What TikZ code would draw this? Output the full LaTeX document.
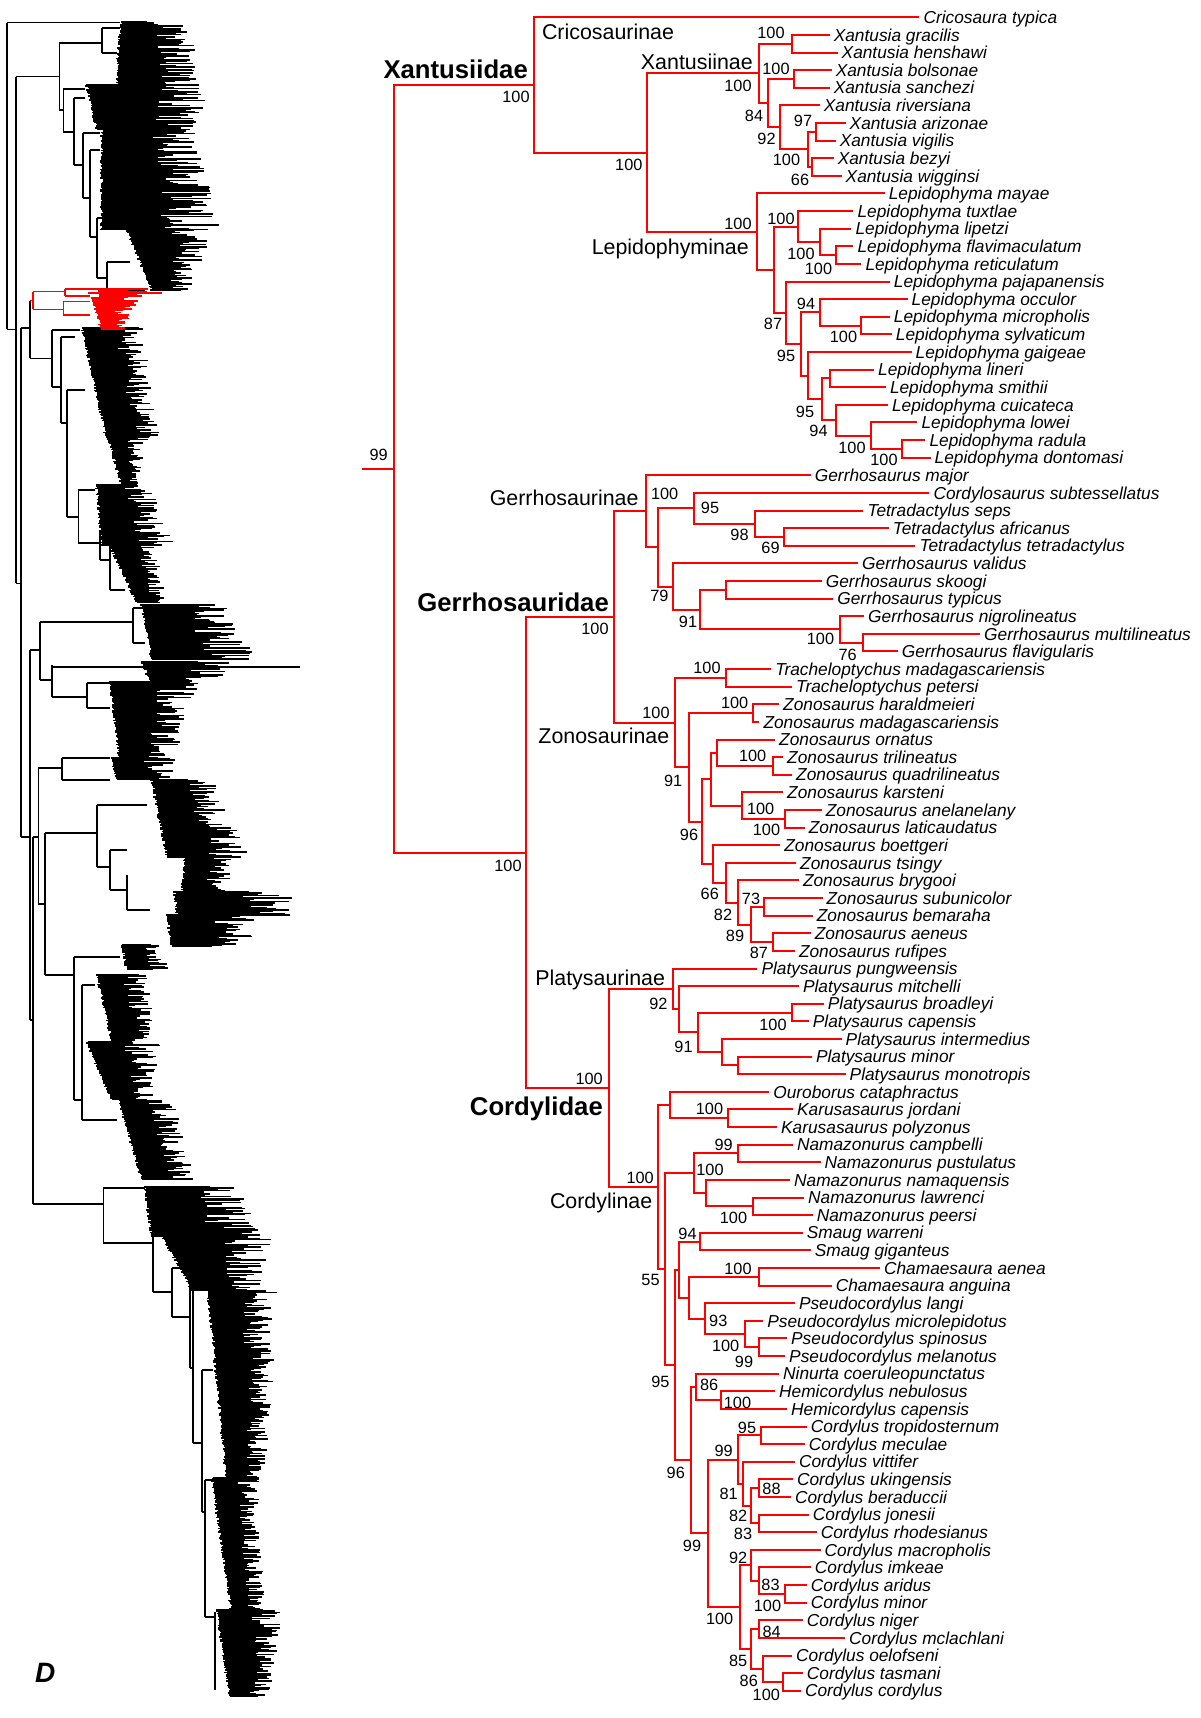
\documentclass[tikz,border=0pt]{standalone}
\usepackage{fontspec}
\setmainfont{Liberation Sans}
\newcommand\mkblob[7]{%
  \pgfmathtruncatemacro\bn{(#2-#1)/1.2}%
  \foreach \bi in {0,...,\bn}{%
    \pgfmathsetmacro\byy{#1+1.2*\bi}%
    \pgfmathsetmacro\bt{(\byy-#1)/(#2-#1)}%
    \pgfmathsetmacro\bxl{#3+\bt*(#4-#3)+3*rnd}%
    \pgfmathsetmacro\bxr{#5+\bt*(#6-#5)}%
    \pgfmathsetmacro\bxe{\bxl+(\bxr-\bxl)*(0.5+0.5*rnd)}%
    \draw[#7,line width=1.5pt] (\bxl,\byy) -- (\bxe,\byy);
  }}
\tikzset{
 rd/.style={draw=red, line width=2pt},
 bk/.style={draw=black, line width=1.6pt},
 rk/.style={draw=red, line width=1.5pt},
 tip/.style={anchor=west, font=\fontsize{17.3}{18}\selectfont\itshape, text height=12.4pt, text depth=0pt, inner xsep=4pt, inner ysep=0pt},
 bs/.style={anchor=center, font=\fontsize{16.3}{17}\selectfont, text height=11.7pt, text depth=0pt, inner sep=0pt},
 sub/.style={font=\fontsize{21.4}{22}\selectfont, inner sep=0pt},
 fam/.style={font=\fontsize{25.7}{26}\selectfont\bfseries, inner sep=0pt},
}
\begin{document}
\begin{tikzpicture}[x=1pt,y=-1pt]
\useasboundingbox (0,0) rectangle (1200,1718);
\fill[white] (0,0) rectangle (1200,1718);
\pgfmathsetseed{12}
% ---------------- left overview tree ----------------
\draw[bk]
(6.7,22.7)--(6.7,329.3) (6.7,22.7)--(120,22.7) (6.7,329.3)--(16,329.3)
(16,76.7)--(16,583.3) (16,76.7)--(59.3,76.7)
(59.3,43)--(59.3,110) (59.3,43)--(101.7,43)
(101.7,28)--(101.7,53) (101.7,28)--(120,28) (101.7,53)--(117,53)
(59.3,110)--(63.3,110) (63.3,89)--(63.3,132) (63.3,89)--(85,89) (63.3,132)--(74,132)
(74,98)--(74,165) (74,98)--(85,98) (74,165)--(83,165)
(83,133)--(83,198) (83,133)--(100,133) (83,198)--(90,198)
(90,150)--(90,237) (90,150)--(100,150) (90,237)--(97,237)
(97,218)--(97,278) (97,218)--(125,218) (97,278)--(107,278)
(107,262)--(107,290) (107,262)--(130,262) (107,290)--(145,290)
(16,583.3)--(20.7,583.3)
(20.7,328)--(20.7,836.7) (20.7,328)--(30,328)
(30,300.5)--(30,358.3) (30,358.3)--(51.7,358.3)
(51.7,330)--(51.7,386.7) (51.7,330)--(80,330) (51.7,386.7)--(60.7,386.7)
(60.7,337)--(60.7,423) (60.7,337)--(75,337) (60.7,423)--(67,423)
(67,390)--(67,516.7) (67,390)--(85,390) (67,516.7)--(78.3,516.7)
(78.3,490)--(78.3,543) (78.3,490)--(95,490) (78.3,543)--(100,543)
(100,530)--(100,560) (100,560)--(110,560) (110,545)--(110,590) (110,590)--(125,590)
(20.7,836.7)--(30,836.7)
(30,650)--(30,1020) (30,650)--(40,650)
(40,621.7)--(40,680) (40,621.7)--(133,621.7)
(133,608)--(133,643) (133,608)--(150,608) (133,643)--(145,643)
(40,680)--(51.7,680)
(51.7,665)--(51.7,697) (51.7,666.7)--(300,666.7) (51.7,697)--(86.7,697)
(86.7,683)--(86.7,708) (86.7,683)--(110,683) (86.7,708)--(110,708)
(30,1020)--(33,1020)
(33,836.7)--(33,1204) (33,836.7)--(38.3,836.7)
(38.3,768)--(38.3,904) (38.3,768)--(61.7,768)
(61.7,758)--(61.7,780) (61.7,758)--(110,758) (61.7,780)--(110,780)
(38.3,904)--(45,904)
(45,833)--(45,975) (45,833)--(96.7,833)
(96.7,805)--(96.7,867) (96.7,805)--(146.7,805) (96.7,867)--(110,867)
(110,850)--(110,890) (110,850)--(127,850) (110,890)--(127,890)
(127,875)--(127,910) (127,910)--(150,910)
(45,975)--(74,975)
(74,957)--(74,1100) (74,957)--(120,957) (74,1100)--(82,1100)
(82,985)--(82,1120) (82,985)--(95,985) (82,1120)--(117,1120)
(33,1204)--(103.3,1204)
(103.3,1188)--(103.3,1243) (103.3,1188)--(145,1188) (103.3,1243)--(153,1243)
(153,1232)--(153,1292) (153,1232)--(170,1232) (153,1292)--(172,1292)
(172,1268)--(172,1317) (172,1268)--(200,1268) (172,1317)--(190,1317)
(190,1275)--(190,1368) (190,1275)--(212,1275) (190,1368)--(193,1368)
(193,1290)--(193,1443) (193,1290)--(210,1290) (193,1443)--(201.7,1443)
(201.7,1370)--(201.7,1512) (201.7,1370)--(213,1370) (201.7,1512)--(205,1512)
(205,1480)--(205,1617) (205,1480)--(212,1480) (205,1617)--(215,1617)
(215,1612)--(215,1690);
\foreach \a/\b/\c/\d/\e/\f in {
 22/27/120/120/157/150, 25/43/120/117/185/190, 43/88/117/115/195/200,
 85/130/85/95/210/200, 130/230/100/100/195/222, 230/290/125/150/215/190,
 328/440/80/105/143/160, 440/485/107/120/145/140,
 485/545/95/100/150/175, 545/603/108/135/160/165,
 605/660/140/150/225/262, 662/685/140/150/230/220,
 682/760/108/118/200/175,
 758/780/110/115/173/175, 780/857/150/165/215/250, 857/893/183/180/233/230,
 892/915/173/175/297/290, 915/947/165/170/260/250,
 945/970/120/125/160/175, 975/1040/95/110/150/155, 1042/1100/85/110/160/155,
 1100/1180/117/140/175/195,
 1187/1237/143/150/245/262, 1230/1290/157/190/277/260,
 1290/1367/205/215/277/270, 1360/1480/213/225/275/265,
 1478/1613/210/230/260/265, 1610/1697/215/228/285/270}
 {\mkblob{\a}{\b}{\c}{\d}{\e}{\f}{black}}
% red clade (thumbnail)
\draw[rk] (30,300.5)--(33,300.5) (33,291.7)--(33,309.3)
 (33,291.7)--(65,291.7) (65,289)--(65,296) (65,289)--(148,289) (65,296)--(90,296)
 (88,293)--(162,293)
 (33,309.3)--(63.3,309.3) (63.3,301.7)--(63.3,315) (63.3,301.7)--(90,301.7) (63.3,315)--(90,315);
\mkblob{289}{298}{95}{100}{150}{145}{red}
\mkblob{298}{330}{90}{100}{140}{125}{red}
\node[font=\fontsize{28}{28}\selectfont\bfseries\itshape, anchor=base west, inner sep=0pt] (D) at (35,1682) {D};
% ---------------- right detailed tree ----------------
\foreach \xe/\tx [count=\i] in {
919.4/Cricosaura typica, 829.6/Xantusia gracilis, 837.5/Xantusia henshawi,
831.6/Xantusia bolsonae, 829.6/Xantusia sanchezi, 819.7/Xantusia riversiana,
845.5/Xantusia arizonae, 835.6/Xantusia vigilis, 833.6/Xantusia bezyi,
841.5/Xantusia wigginsi, 884.6/Lepidophyma mayae, 853.4/Lepidophyma tuxtlae,
851.4/Lepidophyma lipetzi, 853.4/Lepidophyma flavimaculatum, 861.3/Lepidophyma reticulatum,
889.7/Lepidophyma pajapanensis, 907.5/Lepidophyma occulor, 889.7/Lepidophyma micropholis,
891.7/Lepidophyma sylvaticum, 911.5/Lepidophyma gaigeae, 874/Lepidophyma lineri,
885.8/Lepidophyma smithii, 887.8/Lepidophyma cuicateca, 917.4/Lepidophyma lowei,
925.3/Lepidophyma radula, 930.5/Lepidophyma dontomasi,
810.7/Gerrhosaurus major, 929.3/Cordylosaurus subtessellatus, 863.3/Tetradactylus seps,
888.6/Tetradactylus africanus, 915.4/Tetradactylus tetradactylus, 858/Gerrhosaurus validus,
821.7/Gerrhosaurus skoogi, 833.2/Gerrhosaurus typicus, 864/Gerrhosaurus nigrolineatus,
980/Gerrhosaurus multilineatus, 897.6/Gerrhosaurus flavigularis,
771.1/Tracheloptychus madagascariensis, 792/Tracheloptychus petersi,
779/Zonosaurus haraldmeieri, 759.3/Zonosaurus madagascariensis, 775/Zonosaurus ornatus,
783/Zonosaurus trilineatus, 792/Zonosaurus quadrilineatus, 783/Zonosaurus karsteni,
821.7/Zonosaurus anelanelany, 804.7/Zonosaurus laticaudatus, 780.2/Zonosaurus boettgeri,
796/Zonosaurus tsingy, 798.8/Zonosaurus brygooi, 822.5/Zonosaurus subunicolor,
812.6/Zonosaurus bemaraha, 810.7/Zonosaurus aeneus, 794.8/Zonosaurus rufipes,
757.3/Platysaurus pungweensis, 798.8/Platysaurus mitchelli, 823.7/Platysaurus broadleyi,
808.7/Platysaurus capensis, 841.5/Platysaurus intermedius, 811.8/Platysaurus minor,
845.5/Platysaurus monotropis,
769.1/Ouroborus cataphractus, 792.9/Karusasaurus jordani, 777/Karusasaurus polyzonus,
792.9/Namazonurus campbelli, 820.5/Namazonurus pustulatus, 790/Namazonurus namaquensis,
804/Namazonurus lawrenci, 812.6/Namazonurus peersi, 802.7/Smaug warreni,
810.7/Smaug giganteus, 879.9/Chamaesaura aenea, 831.6/Chamaesaura anguina,
794.8/Pseudocordylus langi, 763.2/Pseudocordylus microlepidotus, 787/Pseudocordylus spinosus,
785/Pseudocordylus melanotus, 779/Ninurta coeruleopunctatus, 775/Hemicordylus nebulosus,
787/Hemicordylus capensis, 806.7/Cordylus tropidosternum, 804.7/Cordylus meculae,
794.8/Cordylus vittifer, 792.9/Cordylus ukingensis, 790.9/Cordylus beraduccii,
808.7/Cordylus jonesii, 816.6/Cordylus rhodesianus, 820.5/Cordylus macropholis,
810.7/Cordylus imkeae, 806.7/Cordylus aridus, 806.7/Cordylus minor,
802.7/Cordylus niger, 845/Cordylus mclachlani, 792/Cordylus oelofseni,
802.7/Cordylus tasmani, 800.8/Cordylus cordylus}
{\pgfmathsetmacro\ty{17.3+(\i-1)*17.615}
 \node[tip] (t\i) at (\xe,\ty) {\tx};}
% internal nodes
\coordinate (R0) at (361.9,468.8);
\coordinate (R) at (394.3,468.8);
\coordinate (X) at (534,85.0);
\coordinate (XL) at (647.4,152.6);
\coordinate (XA) at (759.3,73.5);
\coordinate (XA1) at (792,43.7);
\coordinate (XA2) at (768.3,103.2);
\coordinate (XA3) at (794,79.0);
\coordinate (XA4) at (780.2,127.4);
\coordinate (XA5) at (808,149.4);
\coordinate (XA6) at (815.8,131.8);
\coordinate (XA7) at (811.8,167.0);
\coordinate (LA) at (756.5,231.6);
\coordinate (L2) at (774.3,269.7);
\coordinate (L3) at (798,226.5);
\coordinate (L5) at (819.8,241.9);
\coordinate (L6) at (835.6,255.1);
\coordinate (L4) at (786.1,312.8);
\coordinate (L8) at (800.8,344.1);
\coordinate (L9) at (819.8,312.4);
\coordinate (L11) at (860.9,325.6);
\coordinate (L10) at (807.9,375.7);
\coordinate (L12) at (821.7,399.4);
\coordinate (L12a) at (829.6,378.4);
\coordinate (L13) at (835.6,420.3);
\coordinate (L14) at (870.8,435.7);
\coordinate (L15) at (901.6,448.9);
\coordinate (GC) at (526,852.6);
\coordinate (GE) at (614.1,617.1);
\coordinate (GS) at (645.8,511.4);
\coordinate (G2) at (657.6,547.4);
\coordinate (G3) at (694,508.3);
\coordinate (G6) at (754.5,523.7);
\coordinate (G7) at (784.2,536.9);
\coordinate (G4) at (673.4,586.5);
\coordinate (G5) at (700.3,609.6);
\coordinate (G5a) at (725.6,589.8);
\coordinate (G8) at (840.3,629.4);
\coordinate (G9) at (862.5,642.6);
\coordinate (Z0) at (675,722.7);
\coordinate (ZT) at (725.6,677.9);
\coordinate (Z1) at (688.9,767.4);
\coordinate (ZH) at (753.3,713.1);
\coordinate (Z2) at (701.9,821.6);
\coordinate (Z3) at (710.6,779.2);
\coordinate (Z5) at (717.2,752.7);
\coordinate (Z5a) at (773,765.9);
\coordinate (Z6) at (741.5,805.6);
\coordinate (Z6a) at (785,818.8);
\coordinate (Z4) at (712.5,864.0);
\coordinate (Z7) at (725.6,882.7);
\coordinate (Z8) at (737.5,902.5);
\coordinate (Z9) at (750.5,924.5);
\coordinate (Z10) at (764.4,906.8);
\coordinate (Z11) at (773,942.1);
\coordinate (CO) at (609,1088.0);
\coordinate (PL) at (673.4,988.9);
\coordinate (P2) at (679,1009.3);
\coordinate (P3) at (698,1032.4);
\coordinate (P3a) at (792,1012.5);
\coordinate (P4) at (721.7,1052.2);
\coordinate (P5) at (737.5,1065.4);
\coordinate (CY) at (658.4,1187.1);
\coordinate (C1) at (669.5,1105.0);
\coordinate (C1a) at (727.6,1118.2);
\coordinate (C2) at (665.1,1269.1);
\coordinate (N1) at (694,1173.3);
\coordinate (N1a) at (737.5,1153.4);
\coordinate (N3) at (706.3,1193.1);
\coordinate (N3a) at (753.3,1206.3);
\coordinate (C3) at (675,1364.9);
\coordinate (C4) at (679,1269.6);
\coordinate (SM) at (700,1241.5);
\coordinate (C5) at (688.9,1297.7);
\coordinate (CH) at (759.3,1276.8);
\coordinate (PS) at (704.7,1318.6);
\coordinate (PS2) at (745.4,1334.0);
\coordinate (PS3) at (759.3,1347.2);
\coordinate (C6) at (690.8,1460.2);
\coordinate (HM) at (696.4,1386.9);
\coordinate (HM2) at (720.5,1400.1);
\coordinate (C7) at (707.9,1533.4);
\coordinate (C8) at (737.5,1459.6);
\coordinate (C8a) at (761.2,1435.3);
\coordinate (C9) at (743.4,1483.8);
\coordinate (C10) at (751.3,1505.8);
\coordinate (C10a) at (758.5,1488.1);
\coordinate (C10b) at (759.3,1523.4);
\coordinate (C11) at (739.5,1607.1);
\coordinate (C12) at (751.3,1565.2);
\coordinate (C13) at (758.5,1580.6);
\coordinate (C13a) at (785,1593.8);
\coordinate (C14) at (751.3,1648.9);
\coordinate (C14a) at (758.5,1629.0);
\coordinate (C15) at (763.2,1668.7);
\coordinate (C15a) at (783,1681.9);
\draw[rd] (R0) -- (R);
\foreach \p/\c in {R/X, R/GC, X/t1.west, X/XL, XL/XA, XL/LA, XA/XA1, XA/XA2,
 XA1/t2.west, XA1/t3.west, XA2/XA3, XA2/XA4, XA3/t4.west, XA3/t5.west,
 XA4/t6.west, XA4/XA5, XA5/XA6, XA5/XA7, XA6/t7.west, XA6/t8.west,
 XA7/t9.west, XA7/t10.west, LA/t11.west, LA/L2, L2/L3, L2/L4,
 L3/t12.west, L3/L5, L5/t13.west, L5/L6, L6/t14.west, L6/t15.west,
 L4/t16.west, L4/L8, L8/L9, L8/L10, L9/t17.west, L9/L11, L11/t18.west, L11/t19.west,
 L10/t20.west, L10/L12, L12/L12a, L12/L13, L12a/t21.west, L12a/t22.west,
 L13/t23.west, L13/L14, L14/t24.west, L14/L15, L15/t25.west, L15/t26.west,
 GC/GE, GC/CO, GE/GS, GE/Z0, GS/t27.west, GS/G2, G2/G3, G2/G4,
 G3/t28.west, G3/G6, G6/t29.west, G6/G7, G7/t30.west, G7/t31.west,
 G4/t32.west, G4/G5, G5/G5a, G5/G8, G5a/t33.west, G5a/t34.west,
 G8/t35.west, G8/G9, G9/t36.west, G9/t37.west,
 Z0/ZT, Z0/Z1, ZT/t38.west, ZT/t39.west, Z1/ZH, Z1/Z2, ZH/t40.west, ZH/t41.west,
 Z2/Z3, Z2/Z4, Z3/Z5, Z3/Z6, Z5/t42.west, Z5/Z5a, Z5a/t43.west, Z5a/t44.west,
 Z6/t45.west, Z6/Z6a, Z6a/t46.west, Z6a/t47.west, Z4/t48.west, Z4/Z7,
 Z7/t49.west, Z7/Z8, Z8/t50.west, Z8/Z9, Z9/Z10, Z9/Z11,
 Z10/t51.west, Z10/t52.west, Z11/t53.west, Z11/t54.west,
 CO/PL, CO/CY, PL/t55.west, PL/P2, P2/t56.west, P2/P3, P3/P3a, P3/P4,
 P3a/t57.west, P3a/t58.west, P4/t59.west, P4/P5, P5/t60.west, P5/t61.west,
 CY/C1, CY/C2, C1/t62.west, C1/C1a, C1a/t63.west, C1a/t64.west,
 C2/N1, C2/C3, N1/N1a, N1/N3, N1a/t65.west, N1a/t66.west,
 N3/t67.west, N3/N3a, N3a/t68.west, N3a/t69.west,
 C3/C4, C3/C6, C4/SM, C4/C5, SM/t70.west, SM/t71.west, C5/CH, C5/PS,
 CH/t72.west, CH/t73.west, PS/t74.west, PS/PS2, PS2/t75.west, PS2/PS3,
 PS3/t76.west, PS3/t77.west, C6/HM, C6/C7, HM/t78.west, HM/HM2,
 HM2/t79.west, HM2/t80.west, C7/C8, C7/C11, C8/C8a, C8/C9,
 C8a/t81.west, C8a/t82.west, C9/t83.west, C9/C10, C10/C10a, C10/C10b,
 C10a/t84.west, C10a/t85.west, C10b/t86.west, C10b/t87.west,
 C11/C12, C11/C14, C12/t88.west, C12/C13, C13/t89.west, C13/C13a,
 C13a/t90.west, C13a/t91.west, C14/C14a, C14/C15, C14a/t92.west, C14a/t93.west,
 C15/t94.west, C15/C15a, C15a/t95.west, C15a/t96.west}
 {\draw[rd] (\p) |- (\c);}
% bootstrap values
\foreach \bx/\by/\bv [count=\k] in {
378.7/455/99, 516/96.7/100, 628.8/164.3/100, 738/86/100, 771/32.3/100,
754/116/84, 776/69/100, 766.5/138.3/92, 786.5/160/100, 803/121/97, 800/179.3/66,
738/223.3/100, 781/218.3/100, 801/253.3/100, 818.5/268.3/100, 773/323.3/87,
806/303.3/94, 843.5/336.7/100, 786/356/95, 805/411.7/95, 818.5/430.7/94,
852/447.7/100, 884/460/100,
664.6/493.3/100, 710/507.7/95, 739.5/534.3/98, 770.5/547.3/69, 659.4/596/79,
688/621.7/91, 820.5/639/100, 847.6/655/76, 595/628.3/100,
656/712.7/100, 707/667.3/100, 734.7/702.7/100, 673.2/780.7/91, 752.7/755.7/100,
689/834.3/96, 760.7/808.3/100, 766.5/829.3/100, 709.8/894/66, 751/898.3/73,
723/915/82, 735/936/89, 758.9/952.3/87, 508/865.7/100,
658.4/1003.3/92, 773/1024.3/100, 683.5/1046.7/91, 589.2/1078.3/100,
709.5/1109/100, 723.6/1145/99, 710/1169.3/100, 640.2/1177.3/100, 733.5/1217.3/100,
687.5/1233.3/94, 738/1268.3/100, 650.5/1280/55, 718.3/1321/93, 725.6/1346/100,
744/1361.7/99, 660.4/1381.7/95, 709.2/1385/86, 737.5/1402.3/100, 747/1427.7/95,
723.6/1451/99, 675.8/1472.7/96, 728.6/1493.3/81, 771.5/1488.3/88, 738.1/1515.7/82,
743/1533.3/83, 692/1545.7/99, 738.1/1557.7/92, 770.5/1585/83, 767.5/1606/100,
719.7/1618.3/100, 771.7/1631.7/84, 738.1/1661/85, 748.8/1681/86, 766.3/1694.3/100}
 {\node[bs] (b\k) at (\bx,\by) {\bv};}
% clade names
\node[fam, anchor=base east] (nXan) at (528,79) {Xantusiidae};
\node[sub, anchor=base west] (nCri) at (541.8,40) {Cricosaurinae};
\node[sub, anchor=base east] (nXai) at (753,70) {Xantusiinae};
\node[sub, anchor=base east] (nLep) at (749,254) {Lepidophyminae};
\node[sub, anchor=base east] (nGei) at (638.7,505.7) {Gerrhosaurinae};
\node[fam, anchor=base east] (nGer) at (609,611.7) {Gerrhosauridae};
\node[sub, anchor=base east] (nZon) at (669.5,743.3) {Zonosaurinae};
\node[sub, anchor=base east] (nPla) at (665.2,985) {Platysaurinae};
\node[fam, anchor=base east] (nCor) at (603,1115) {Cordylidae};
\node[sub, anchor=base east] (nCoi) at (652.5,1208.3) {Cordylinae};
\end{tikzpicture}
\end{document}
